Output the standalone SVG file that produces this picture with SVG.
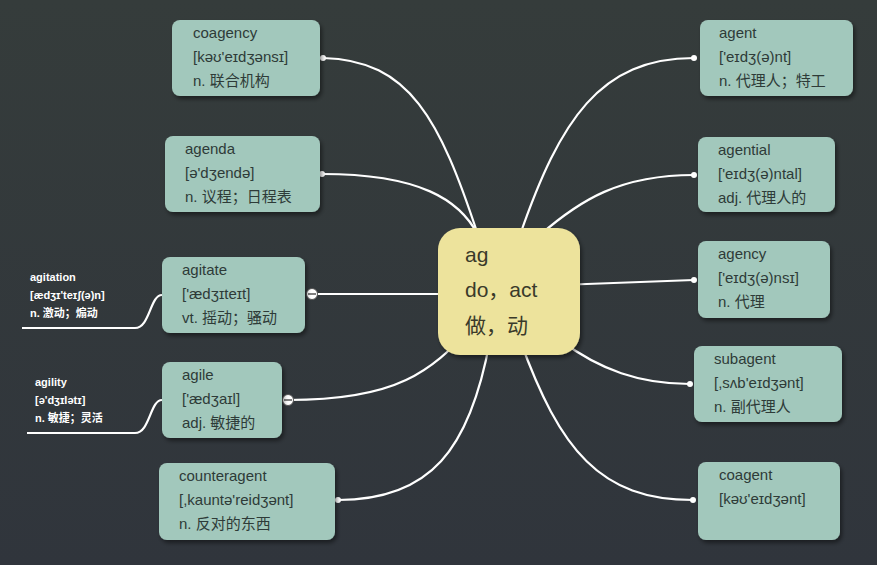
<svg xmlns="http://www.w3.org/2000/svg" width="877" height="565" viewBox="0 0 877 565">
<defs><linearGradient id="bg" x1="0" y1="0" x2="0" y2="1"><stop offset="0" stop-color="#353c3b"/><stop offset="1" stop-color="#30353c"/></linearGradient>
<filter id="sh"><feDropShadow dx="2" dy="3" stdDeviation="2" flood-color="#000" flood-opacity="0.45"/></filter></defs>
<style>
.n{fill:#a2c8bc;filter:url(#sh)}
.t{font-family:"Liberation Sans","Noto Sans CJK SC",sans-serif;font-size:15px;fill:#2e3b38}
.s{font-family:"Liberation Sans","Noto Sans CJK SC",sans-serif;font-size:11px;font-weight:bold;fill:#fff}
.c{fill:none;stroke:#fff;stroke-width:2.2}
.d{fill:#fff}
</style>
<rect width="877" height="565" fill="url(#bg)"/>
<g id="connectors">
<path class="c" d="M478,235 C440,120 410,60 323,58"/>
<path class="c" d="M478,235 C460,200 420,174 322,174"/>
<path class="c" d="M470,294 L312,294"/>
<path class="c" d="M470,330 C430,370 400,400 288,400"/>
<path class="c" d="M490,340 C470,450 430,500 338,500"/>
<path class="c" d="M520,235 C560,120 600,58 694,58"/>
<path class="c" d="M540,235 C580,200 620,175 694,175"/>
<path class="c" d="M560,285 L694,280"/>
<path class="c" d="M560,340 C600,370 640,384 690,384"/>
<path class="c" d="M520,340 C560,450 600,500 693,500"/>
<path class="c" d="M22,328 L135,328 C150,328 150,295 162,295"/>
<path class="c" d="M27,433 L135,433 C150,433 150,400 162,400"/>
<circle class="d" cx="323" cy="58" r="3"/><circle class="d" cx="322" cy="174" r="3"/><circle class="d" cx="338" cy="500" r="3"/>
<circle class="d" cx="694" cy="58" r="3"/><circle class="d" cx="694" cy="175" r="3"/><circle class="d" cx="694" cy="280" r="3"/><circle class="d" cx="690" cy="384" r="3"/><circle class="d" cx="693" cy="500" r="3"/>
<g fill="#fff" stroke="#555" stroke-width="1"><circle cx="312" cy="294" r="5.5"/><circle cx="288" cy="400" r="5.5"/></g>
<g stroke="#555" stroke-width="1.5"><path d="M308,294h8M284,400h8"/></g>
</g>
<g id="center"><rect x="438" y="228" width="142" height="127" rx="22" fill="#ede39c" filter="url(#sh)"/>
<g font-family="Liberation Sans,Noto Sans CJK SC,sans-serif" font-size="21" fill="#3a3a2a"><text x="465" y="262">ag</text><text x="465" y="297">do，act</text><text x="465" y="333">做，动</text></g></g>
<g id="coagency"><rect class="n" x="172" y="20" width="148" height="76" rx="8"/><text class="t" x="193" y="38">coagency</text><text class="t" x="193" y="62">[kəʊ'eɪdʒənsɪ]</text><text class="t" x="193" y="86">n. 联合机构</text></g>
<g id="agenda"><rect class="n" x="165" y="136" width="155" height="76" rx="8"/><text class="t" x="185" y="154">agenda</text><text class="t" x="185" y="178">[ə'dʒendə]</text><text class="t" x="185" y="202">n. 议程；日程表</text></g>
<g id="agitate"><rect class="n" x="162" y="257" width="143" height="76" rx="8"/><text class="t" x="182" y="275">agitate</text><text class="t" x="182" y="299">['ædʒɪteɪt]</text><text class="t" x="182" y="323">vt. 摇动；骚动</text></g>
<g id="agile"><rect class="n" x="162" y="362" width="120" height="76" rx="8"/><text class="t" x="182" y="380">agile</text><text class="t" x="182" y="404">['ædʒaɪl]</text><text class="t" x="182" y="428">adj. 敏捷的</text></g>
<g id="counteragent"><rect class="n" x="159" y="463" width="176" height="77" rx="8"/><text class="t" x="179" y="481">counteragent</text><text class="t" x="179" y="505">[,kauntə'reidʒənt]</text><text class="t" x="179" y="529">n. 反对的东西</text></g>
<g id="agent"><rect class="n" x="700" y="20" width="153" height="76" rx="8"/><text class="t" x="719" y="38">agent</text><text class="t" x="719" y="62">['eɪdʒ(ə)nt]</text><text class="t" x="719" y="86">n. 代理人；特工</text></g>
<g id="agential"><rect class="n" x="698" y="137" width="137" height="75" rx="8"/><text class="t" x="718" y="155">agential</text><text class="t" x="718" y="179">['eɪdʒ(ə)ntal]</text><text class="t" x="718" y="203">adj. 代理人的</text></g>
<g id="agency"><rect class="n" x="698" y="241" width="132" height="77" rx="8"/><text class="t" x="718" y="259">agency</text><text class="t" x="718" y="283">['eɪdʒ(ə)nsɪ]</text><text class="t" x="718" y="307">n. 代理</text></g>
<g id="subagent"><rect class="n" x="694" y="346" width="148" height="76" rx="8"/><text class="t" x="714" y="364">subagent</text><text class="t" x="714" y="388">[,sʌb'eɪdʒənt]</text><text class="t" x="714" y="412">n. 副代理人</text></g>
<g id="coagent"><rect class="n" x="698" y="462" width="142" height="78" rx="8"/><text class="t" x="719" y="480">coagent</text><text class="t" x="719" y="504">[kəʊ'eɪdʒənt]</text></g>
<g id="agitation"><text class="s" x="30" y="281">agitation</text><text class="s" x="30" y="299">[ædʒɪ'teɪʃ(ə)n]</text><text class="s" x="30" y="317">n. 激动；煽动</text></g>
<g id="agility"><text class="s" x="35" y="386">agility</text><text class="s" x="35" y="404">[ə'dʒɪlətɪ]</text><text class="s" x="35" y="422">n. 敏捷；灵活</text></g>
</svg>
